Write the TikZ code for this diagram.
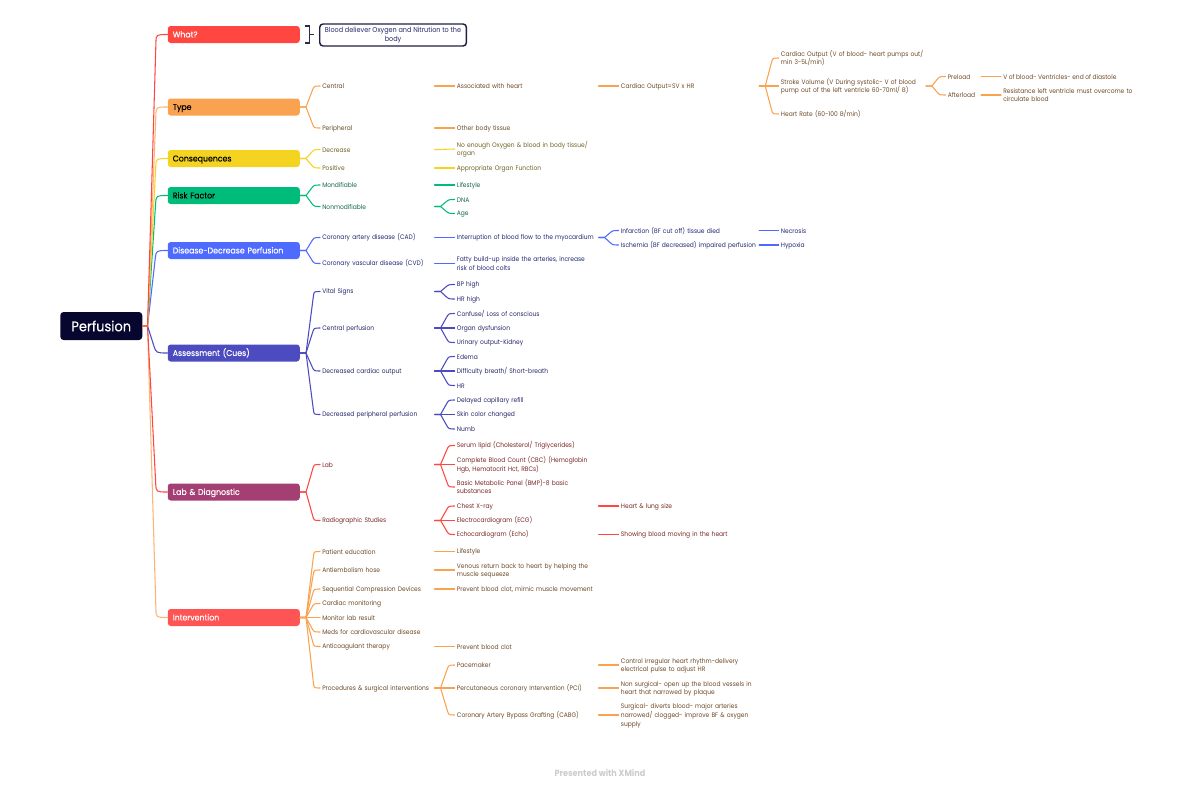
\documentclass[tikz,border=0pt]{standalone}
\usepackage{fontspec}
\setmainfont{Poppins}[FakeStretch=0.91]
\newfontfamily\topicfont{Poppins}[FakeStretch=0.93,FakeBold=0.35]
\usetikzlibrary{calc}
\hyphenpenalty=10000
\exhyphenpenalty=10000
\definecolor{cRed}{HTML}{FF4640}
\definecolor{cOrg}{HTML}{F9A24F}
\definecolor{cYel}{HTML}{F4D420}
\definecolor{cGrn}{HTML}{00BC7B}
\definecolor{cBlu}{HTML}{4F6BFF}
\definecolor{cInd}{HTML}{4D4BC0}
\definecolor{cPur}{HTML}{A43F73}
\definecolor{cCor}{HTML}{FF5454}
\definecolor{cNavy}{HTML}{06062E}
\definecolor{tOrg}{HTML}{6E4A28}
\definecolor{tYel}{HTML}{6F6326}
\definecolor{tGrn}{HTML}{14694C}
\definecolor{tBlu}{HTML}{1F2A72}
\definecolor{tInd}{HTML}{28276A}
\definecolor{tRed}{HTML}{7A2727}
\newcommand\lfstrut{\rule[-1.1pt]{0pt}{6pt}}
\tikzset{
  x=0.75pt,y=-0.75pt,
  conn/.style={line width=0.8pt,line join=round,line cap=round},
  lf/.style={anchor=west,inner xsep=1.5pt,inner ysep=0pt,align=left,
    execute at begin node=\lfstrut,execute at end node=\lfstrut,
    font=\fontsize{4.9}{6.45}\selectfont},
  ca/.style={lf,text width=82.5pt},
  cb/.style={lf,text width=104.5pt},
  cc/.style={lf,text width=102pt},
  cd/.style={lf,text width=107pt},
  cp/.style={lf,text width=23.25pt},
  topic/.style={anchor=west,rounded corners=2.2pt,minimum width=99pt,minimum height=12.75pt,
    text width=91.5pt,inner xsep=3.75pt,inner ysep=0pt,align=left,text height=5.6pt,text depth=1.2pt,
    font=\fontsize{6.3}{8}\topicfont\selectfont},
}
\newcommand\links[3]{\foreach \t in {#3}{
  \draw[conn,#1] let \p1=(#2.east),\p2=(\t.west) in
    (\p1) -- (\x1+4.5pt,\y1) -- ($(\x2-4.5pt,\y2)!3.5pt!(\x1+4.5pt,\y1)$)
    .. controls (\x2-4.5pt,\y2) .. (\p2);}}
\newcommand\rootlinks[2]{
  \draw[conn,#1] let \p1=(root.east),\p2=(#2.west) in
    (\p1) -- (\x1+3.75pt,\y1) -- ($(\x2-8.5pt,\y2)!6pt!(\x1+3.75pt,\y1)$)
    .. controls (\x2-8.5pt,\y2) .. (\p2);}
\begin{document}
\begin{tikzpicture}
\useasboundingbox (0,0) rectangle (1200,785);
% root and topics
\node[anchor=west,fill=cNavy,text=white,rounded corners=2.5pt,minimum width=61.5pt,minimum height=21pt,
  inner sep=0pt,font=\fontsize{10.5}{12}\topicfont\selectfont] (root) at (60,326) {Perfusion};
\node[topic,fill=cRed,text=white] (what) at (167.5,34.5) {What?};
\node[topic,fill=cOrg,text=black] (type) at (167.5,107) {Type};
\node[topic,fill=cYel,text=black] (cons) at (167.5,158.5) {Consequences};
\node[topic,fill=cGrn,text=black] (risk) at (167.5,195.5) {Risk Factor};
\node[topic,fill=cBlu,text=white] (dis) at (167.5,250.5) {Disease-Decrease Perfusion};
\node[topic,fill=cInd,text=white] (ass) at (167.5,353) {Assessment (Cues)};
\node[topic,fill=cPur,text=white] (labd) at (167.5,492) {Lab \& Diagnostic};
\node[topic,fill=cCor,text=white] (int) at (167.5,617.5) {Intervention};
% summary
\node[anchor=west,draw=cNavy!90,line width=1.1pt,rounded corners=2.5pt,minimum width=110pt,minimum height=16.5pt,
  inner sep=0pt,align=center,text=tInd,font=\fontsize{5.35}{6.45}\selectfont] (sum) at (319,35)
  {Blood deliever Oxygen and Nitrution to the\\body};
\coordinate (brT) at (304.5,26);
\coordinate (brB) at (304.5,43);
\coordinate (brM) at (314,34.5);
\draw[line width=1pt,cNavy!85] (brT) -- (309.5,26) -- (309.5,43) -- (brB) (309.5,34.5) -- (brM);
% Type
\begin{scope}[text=tOrg]
\node[ca] (central) at (320,86) {Central};
\node[ca] (periph) at (320,128) {Peripheral};
\node[cb] (assoc) at (454.7,86) {Associated with heart};
\node[cb] (other) at (454.7,128) {Other body tissue};
\node[cc] (cosv) at (618.7,86) {Cardiac Output=SV x HR};
\node[cd] (co) at (778.7,58) {Cardiac Output (V of blood- heart pumps out/\\min 3-5L/min)};
\node[cd] (sv) at (778.7,86) {Stroke Volume (V During systolic- V of blood\\pump out of the left ventricle 60-70ml/ B)};
\node[cd] (hr) at (778.7,114) {Heart Rate (60-100 B/min)};
\node[cp] (pre) at (945.5,76.5) {Preload};
\node[cp] (aft) at (945.5,95) {Afterload};
\node[lf] (vb) at (1001,76.5) {V of blood- Ventricles- end of diastole};
\node[lf,text width=104pt] (res) at (1001,95) {Resistance left ventricle must overcome to\\circulate blood};
\end{scope}
% Consequences
\begin{scope}[text=tYel]
\node[ca] (dec) at (320,149.5) {Decrease};
\node[ca] (pos) at (320,168) {Positive};
\node[cb] (noe) at (454.7,149) {No enough Oxygen \& blood in body tissue/\\organ};
\node[cb] (app) at (454.7,168) {Appropriate Organ Function};
\end{scope}
% Risk
\begin{scope}[text=tGrn]
\node[ca] (mod) at (320,185) {Mondifiable};
\node[ca] (nonm) at (320,206.5) {Nonmodifiable};
\node[cb] (life) at (454.7,185) {Lifestyle};
\node[cb] (dna) at (454.7,199.5) {DNA};
\node[cb] (age) at (454.7,213.5) {Age};
\end{scope}
% Disease
\begin{scope}[text=tBlu]
\node[ca] (cad) at (320,237.5) {Coronary artery disease (CAD)};
\node[ca] (cvd) at (320,263.5) {Coronary vascular disease (CVD)};
\node[cb] (intr) at (454.7,237.5) {Interruption of blood flow to the myocardium};
\node[cb] (fat) at (454.7,263.5) {Fatty build-up inside the arteries, increase\\risk of blood colts};
\node[cc] (inf) at (618.7,230.5) {Infarction (BF cut off) tissue died};
\node[cc] (isc) at (618.7,245) {Ischemia (BF decreased) impaired perfusion};
\node[lf] (nec) at (778.7,230.5) {Necrosis};
\node[lf] (hyp) at (778.7,245) {Hypoxia};
\end{scope}
% Assessment
\begin{scope}[text=tInd]
\node[ca] (vit) at (320,291.5) {Vital Signs};
\node[ca] (cenp) at (320,328) {Central perfusion};
\node[ca] (dcard) at (320,371) {Decreased cardiac output};
\node[ca] (dper) at (320,414.5) {Decreased peripheral perfusion};
\node[cb] (bp) at (454.7,284.5) {BP high};
\node[cb] (hrh) at (454.7,299) {HR high};
\node[cb] (conf) at (454.7,313.5) {Confuse/ Loss of conscious};
\node[cb] (org) at (454.7,328) {Organ dysfunsion};
\node[cb] (uri) at (454.7,342.5) {Urinary output-Kidney};
\node[cb] (ede) at (454.7,356.5) {Edema};
\node[cb] (dif) at (454.7,371) {Difficulty breath/ Short-breath};
\node[cb] (hra) at (454.7,385.5) {HR};
\node[cb] (del) at (454.7,400) {Delayed capillary refill};
\node[cb] (ski) at (454.7,414.5) {Skin color changed};
\node[cb] (num) at (454.7,429) {Numb};
\end{scope}
% Lab
\begin{scope}[text=tRed]
\node[ca] (lab) at (320,464.5) {Lab};
\node[ca] (rad) at (320,520.5) {Radiographic Studies};
\node[cb] (ser) at (454.7,445.5) {Serum lipid (Cholesterol/ Triglycerides)};
\node[cb] (cbc) at (454.7,464.5) {Complete Blood Count (CBC) (Hemoglobin\\Hgb, Hematocrit Hct, RBCs)};
\node[cb] (bmp) at (454.7,487) {Basic Metabolic Panel (BMP)-8 basic\\substances};
\node[cb] (che) at (454.7,506) {Chest X-ray};
\node[cb] (ecg) at (454.7,520.5) {Electrocardiogram (ECG)};
\node[cb] (ech) at (454.7,534.5) {Echocardiogram (Echo)};
\node[cc] (hls) at (618.7,506) {Heart \& lung size};
\node[cc] (sho) at (618.7,534.5) {Showing blood moving in the heart};
\end{scope}
% Intervention
\begin{scope}[text=tOrg]
\node[ca] (ped) at (320,551.5) {Patient education};
\node[ca] (ant) at (320,570) {Antiembolism hose};
\node[ca] (scd) at (320,589) {Sequential Compression Devices};
\node[ca] (cmo) at (320,603.5) {Cardiac monitoring};
\node[ca] (mon) at (320,617.5) {Monitor lab result};
\node[ca] (med) at (320,632) {Meds for cardiovascular disease};
\node[ca] (aco) at (320,646.5) {Anticoagulant therapy};
\node[ca] (pro) at (320,688) {Procedures \& surgical interventions};
\node[cb] (lif2) at (454.7,551.5) {Lifestyle};
\node[cb] (ven) at (454.7,570) {Venous return back to heart by helping the\\muscle sequeeze};
\node[cb] (pbc) at (454.7,589) {Prevent blood clot, mimic muscle movement};
\node[cb] (pre2) at (454.7,646.5) {Prevent blood clot};
\node[cb] (pac) at (454.7,665) {Pacemaker};
\node[cb] (pci) at (454.7,688) {Percutaneous coronary Intervention (PCI)};
\node[cb] (cab) at (454.7,715) {Coronary Artery Bypass Grafting (CABG)};
\node[cc] (ctl) at (618.7,665) {Control irregular heart rhythm-delivery\\electrical pulse to adjust HR};
\node[cc] (nos) at (618.7,688) {Non surgical- open up the blood vessels in\\heart that narrowed by plaque};
\node[cc] (sur) at (618.7,715) {Surgical- diverts blood- major arteries\\narrowed/ clogged- improve BF \& oxygen\\supply};
\end{scope}
\node[anchor=center,text=black!20,font=\fontsize{6.7}{8}\selectfont\bfseries] (xm) at (600,772.5) {Presented with XMind};
% connectors
\rootlinks{cOrg!80}{int}
\rootlinks{cRed}{labd}
\rootlinks{cInd}{ass}
\rootlinks{cBlu}{dis}
\rootlinks{cGrn}{risk}
\rootlinks{cYel}{cons}
\rootlinks{cOrg!80}{type}
\rootlinks{cRed}{what}
\links{cOrg}{type}{central,periph}
\links{cOrg}{central}{assoc}
\links{cOrg}{periph}{other}
\links{cOrg}{assoc}{cosv}
\links{cOrg}{cosv}{co,sv,hr}
\links{cOrg}{sv}{pre,aft}
\links{cOrg}{pre}{vb}
\links{cOrg}{aft}{res}
\links{cYel}{cons}{dec,pos}
\links{cYel}{dec}{noe}
\links{cYel}{pos}{app}
\links{cGrn}{risk}{mod,nonm}
\links{cGrn}{mod}{life}
\links{cGrn}{nonm}{dna,age}
\links{cBlu}{dis}{cad,cvd}
\links{cBlu}{cad}{intr}
\links{cBlu}{cvd}{fat}
\links{cBlu}{intr}{inf,isc}
\links{cBlu}{inf}{nec}
\links{cBlu}{isc}{hyp}
\links{cInd}{ass}{vit,cenp,dcard,dper}
\links{cInd}{vit}{bp,hrh}
\links{cInd}{cenp}{conf,org,uri}
\links{cInd}{dcard}{ede,dif,hra}
\links{cInd}{dper}{del,ski,num}
\links{cRed}{labd}{lab,rad}
\links{cRed}{lab}{ser,cbc,bmp}
\links{cRed}{rad}{che,ecg,ech}
\links{cRed}{che}{hls}
\links{cRed}{ech}{sho}
\links{cOrg}{int}{ped,ant,scd,cmo,mon,med,aco,pro}
\links{cOrg}{ped}{lif2}
\links{cOrg}{ant}{ven}
\links{cOrg}{scd}{pbc}
\links{cOrg}{aco}{pre2}
\links{cOrg}{pro}{pac,pci,cab}
\links{cOrg}{pac}{ctl}
\links{cOrg}{pci}{nos}
\links{cOrg}{cab}{sur}
\end{tikzpicture}
\end{document}
